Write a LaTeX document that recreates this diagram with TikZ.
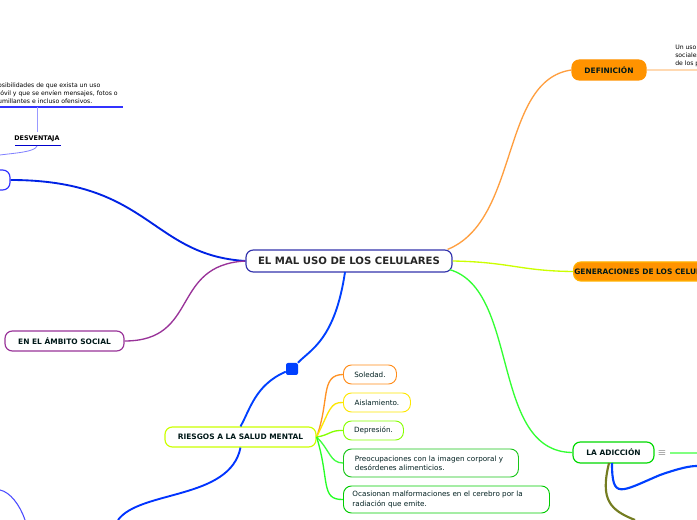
\documentclass[tikz,border=0pt]{standalone}
\usepackage{fontspec}
\setmainfont{DejaVu Sans}
\begin{document}
\begin{tikzpicture}[x=0.75pt,y=-0.75pt,
 box/.style={draw,rounded corners=5.5pt,line width=0.9pt,fill=white,font=\bfseries\fontsize{5.6}{6}\selectfont,text=black!80!teal,inner sep=0pt,anchor=center},
 leaf/.style={draw,rounded corners=6pt,line width=0.7pt,fill=white,font=\fontsize{5.4}{7}\selectfont,text=black!75!teal,inner sep=0pt,align=left,anchor=west},
 con/.style={line width=1pt},
 tiny/.style={font=\fontsize{4.6}{6}\selectfont,align=left,anchor=north west,inner sep=0pt}]
\clip (0,0) rectangle (697,520);
\fill[white] (0,0) rectangle (697,520);
% central
\node[box,draw=blue!60!black!80,minimum width=206*0.75pt,minimum height=22*0.75pt,font=\bfseries\fontsize{7.6}{8}\selectfont,text=black!85] (main) at (349,261) {EL MAL USO DE LOS CELULARES};
\node[box,draw=orange!85!yellow,fill=orange!85!yellow,minimum width=74*0.75pt,minimum height=20*0.75pt] (def) at (609,70) {DEFINICIÓN};
\node[box,draw=orange!60!yellow,fill=orange!85!yellow,minimum width=150*0.75pt,minimum height=19*0.75pt,anchor=west] (gen) at (573,271.5) {GENERACIONES DE LOS CELULARES};
\node[box,draw=green!85!black,minimum width=81*0.75pt,minimum height=21*0.75pt] (adic) at (613.5,452.5) {LA ADICCIÓN};
\node[font=\fontsize{7}{7}\selectfont,text=black!70] (ic) at (662,453) {$\equiv$};
\node[box,draw=violet!80,minimum width=119*0.75pt,minimum height=20*0.75pt] (soc) at (64.5,341) {EN EL ÁMBITO SOCIAL};
\node[box,draw=blue!80,minimum width=30*0.75pt,minimum height=20*0.75pt] (lft) at (-5,180) {};
\node[box,draw=lime!80!yellow,minimum width=151*0.75pt,minimum height=20*0.75pt] (ries) at (240.5,437) {RIESGOS A LA SALUD MENTAL};
\node[fill=blue!75!cyan,rounded corners=1.5pt,minimum size=12*0.75pt,inner sep=0pt] (sq) at (292,369) {};
% leaves
\node[leaf,draw=orange!90,minimum width=53*0.75pt,minimum height=19*0.75pt] (l1) at (343,374.5) {\hspace{8pt}Soledad.\hspace{8pt}};
\node[leaf,draw=yellow!90!orange,minimum width=67*0.75pt,minimum height=19*0.75pt] (l2) at (343,402.5) {\hspace{6pt}Aislamiento.\hspace{6pt}};
\node[leaf,draw=lime!70!green,minimum width=60*0.75pt,minimum height=19*0.75pt] (l3) at (343,430.5) {\hspace{6pt}Depresión.\hspace{6pt}};
\node[leaf,draw=green!75!black!90,minimum width=175*0.75pt,minimum height=28*0.75pt] (l4) at (343,463) {\hspace{6pt}\parbox{160\dimexpr0.75pt}{\raggedright Preocupaciones con la imagen corporal y desórdenes alimenticios.}};
\node[leaf,draw=green!80!black,minimum width=206*0.75pt,minimum height=27*0.75pt] (l5) at (343,499.5) {\hspace{6pt}\parbox{196\dimexpr0.75pt}{\raggedright Ocasionan malformaciones en el cerebro por la radiación que emite.}};
% texts
\node[tiny] (dt) at (675,45) {Un uso a\\sociales\\de los p};
\node[tiny,anchor=north east] (dv) at (118,83) {posibilidades de que exista un uso\\móvil y que se envíen mensajes, fotos o\\humillantes e incluso ofensivos.};
\node[font=\bfseries\fontsize{4.8}{5}\selectfont,inner sep=0pt] (desv) at (37,139) {DESVENTAJA};
\coordinate (u1) at (0,107); \coordinate (u2) at (123,107);
\draw[blue!80,line width=1pt] (u1) -- (u2);
\coordinate (d1) at (15,145.5); \coordinate (d2) at (61,145.5);
\draw[blue!80!black,line width=1pt] (d1) -- (d2);
\coordinate (vt) at (37,107); \coordinate (vb) at (37,132);
\draw[blue!40,line width=0.6pt] (vt) -- (vb);
\coordinate (dl) at (0,155);
\draw[blue!50,line width=0.6pt] (37,146) .. controls (35,152) and (15,153) .. (dl);
% connectors
\draw[con,orange!75] (main.north east)++(-5,0) .. controls (520,220) and (500,80) .. (def.west);
\draw[con,lime!80!yellow] (main.east) .. controls (510,262) and (520,271) .. (gen.west);
\draw[con,green!80] (main.south east)++(-3,-3) .. controls (520,290) and (490,452) .. (adic.west);
\draw[con,orange!30,line width=1.5pt] (def.east) -- (697,70);
\draw[con,green!50,line width=1.5pt] (670,453) -- (697,453);
\draw[con,blue!85!cyan!90!black,line width=1.4pt] (main.west) .. controls (150,255) and (150,180) .. (lft.east);
\draw[con,violet!80] (main.west) .. controls (170,265) and (200,341) .. (soc.east);
\draw[con,blue!75!cyan,line width=1.4pt] (345,272) .. controls (335,340) and (310,350) .. (sq);
\draw[con,blue!75!cyan,line width=1.4pt] (sq) .. controls (255,385) and (250,410) .. (ries.north);
\draw[con,blue!80!cyan,line width=1.4pt] (ries.south) .. controls (230,500) and (140,490) .. (118,520);
\draw[con,blue!70,line width=0.8pt] (0,490) .. controls (10,492) and (20,505) .. (25,520);
\draw[con,orange!85] (ries.east) .. controls (330,400) and (320,375) .. (l1.west);
\draw[con,yellow!90!orange] (ries.east) .. controls (330,410) and (330,402) .. (l2.west);
\draw[con,lime!70!green] (ries.east) .. controls (330,435) and (330,430) .. (l3.west);
\draw[con,green!75] (ries.east) .. controls (330,450) and (330,463) .. (l4.west);
\draw[con,green!85] (ries.east) .. controls (330,480) and (320,500) .. (l5.west);
\draw[con,blue!75!cyan,line width=1.6pt] (612,463) .. controls (612,500) and (620,492) .. (660,475) .. controls (680,468) and (690,466) .. (697,466);
\draw[con,olive!80!green!80!black,line width=1.6pt] (609,463) .. controls (600,500) and (610,510) .. (635,520);
\end{tikzpicture}
\end{document}
